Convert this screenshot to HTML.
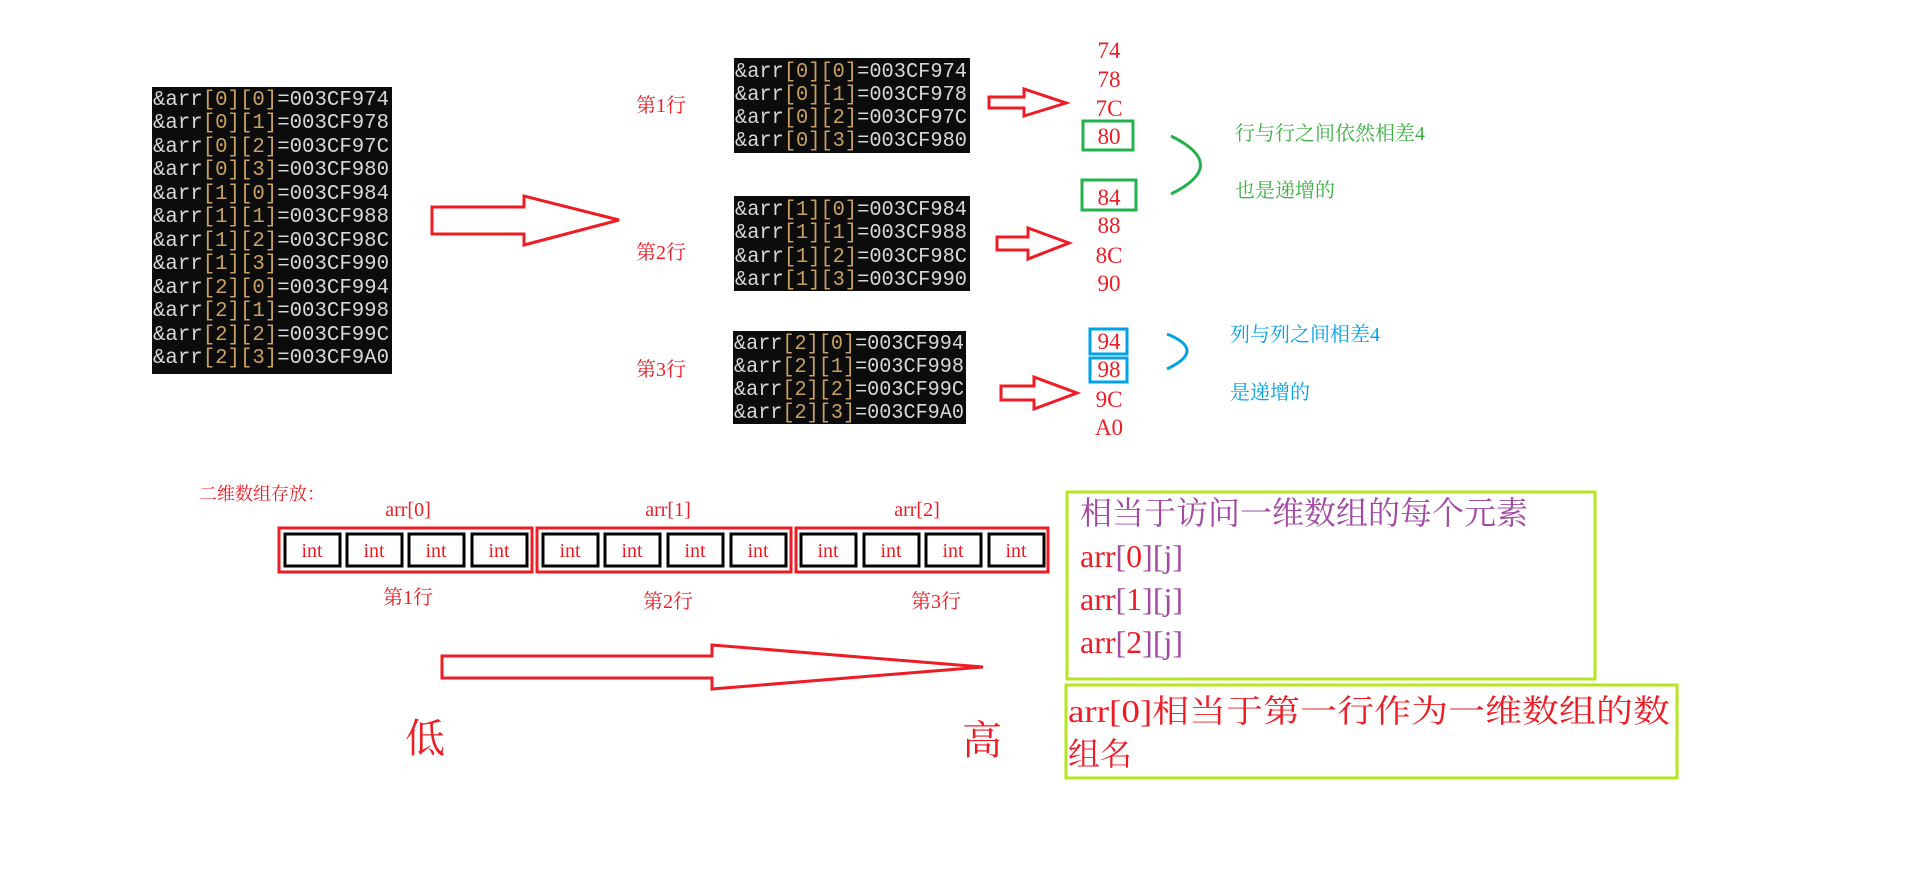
<!DOCTYPE html>
<html><head><meta charset="utf-8"><style>
html,body{margin:0;padding:0;background:#fff;}
svg{display:block;}
.t{font-family:"Liberation Mono",monospace;font-size:21px;fill:#d8d8d8;}
.b{fill:#c8a060;}
.r{font-family:"Liberation Serif","Noto Serif CJK SC",serif;fill:#ee1c24;}
</style></head><body>
<svg width="1907" height="881" viewBox="0 0 1907 881" xmlns="http://www.w3.org/2000/svg">
<rect x="152" y="87" width="240" height="287" fill="#0c0c0c"/>
<g class="t">
<text x="153" y="105" textLength="236" lengthAdjust="spacingAndGlyphs">&amp;arr<tspan class="b">[0][0]</tspan>=003CF974</text>
<text x="153" y="128" textLength="236" lengthAdjust="spacingAndGlyphs">&amp;arr<tspan class="b">[0][1]</tspan>=003CF978</text>
<text x="153" y="152" textLength="236" lengthAdjust="spacingAndGlyphs">&amp;arr<tspan class="b">[0][2]</tspan>=003CF97C</text>
<text x="153" y="175" textLength="236" lengthAdjust="spacingAndGlyphs">&amp;arr<tspan class="b">[0][3]</tspan>=003CF980</text>
<text x="153" y="199" textLength="236" lengthAdjust="spacingAndGlyphs">&amp;arr<tspan class="b">[1][0]</tspan>=003CF984</text>
<text x="153" y="222" textLength="236" lengthAdjust="spacingAndGlyphs">&amp;arr<tspan class="b">[1][1]</tspan>=003CF988</text>
<text x="153" y="246" textLength="236" lengthAdjust="spacingAndGlyphs">&amp;arr<tspan class="b">[1][2]</tspan>=003CF98C</text>
<text x="153" y="269" textLength="236" lengthAdjust="spacingAndGlyphs">&amp;arr<tspan class="b">[1][3]</tspan>=003CF990</text>
<text x="153" y="293" textLength="236" lengthAdjust="spacingAndGlyphs">&amp;arr<tspan class="b">[2][0]</tspan>=003CF994</text>
<text x="153" y="316" textLength="236" lengthAdjust="spacingAndGlyphs">&amp;arr<tspan class="b">[2][1]</tspan>=003CF998</text>
<text x="153" y="340" textLength="236" lengthAdjust="spacingAndGlyphs">&amp;arr<tspan class="b">[2][2]</tspan>=003CF99C</text>
<text x="153" y="363" textLength="236" lengthAdjust="spacingAndGlyphs">&amp;arr<tspan class="b">[2][3]</tspan>=003CF9A0</text>
</g>
<polygon points="432,207 524,207 524,196 619,220 524,245 524,234 432,234" fill="none" stroke="#ee1c24" stroke-width="3"/>
<g class="r" font-size="20">
<text x="636" y="112">第1行</text>
<text x="636" y="259">第2行</text>
<text x="636" y="376">第3行</text>
</g>
<rect x="734" y="58" width="236" height="95" fill="#0c0c0c"/>
<rect x="734" y="196" width="236" height="95" fill="#0c0c0c"/>
<rect x="733" y="331" width="233" height="93" fill="#0c0c0c"/>
<g class="t">
<text x="735" y="77" textLength="232" lengthAdjust="spacingAndGlyphs">&amp;arr<tspan class="b">[0][0]</tspan>=003CF974</text>
<text x="735" y="100" textLength="232" lengthAdjust="spacingAndGlyphs">&amp;arr<tspan class="b">[0][1]</tspan>=003CF978</text>
<text x="735" y="123" textLength="232" lengthAdjust="spacingAndGlyphs">&amp;arr<tspan class="b">[0][2]</tspan>=003CF97C</text>
<text x="735" y="146" textLength="232" lengthAdjust="spacingAndGlyphs">&amp;arr<tspan class="b">[0][3]</tspan>=003CF980</text>
<text x="735" y="215" textLength="232" lengthAdjust="spacingAndGlyphs">&amp;arr<tspan class="b">[1][0]</tspan>=003CF984</text>
<text x="735" y="238" textLength="232" lengthAdjust="spacingAndGlyphs">&amp;arr<tspan class="b">[1][1]</tspan>=003CF988</text>
<text x="735" y="262" textLength="232" lengthAdjust="spacingAndGlyphs">&amp;arr<tspan class="b">[1][2]</tspan>=003CF98C</text>
<text x="735" y="285" textLength="232" lengthAdjust="spacingAndGlyphs">&amp;arr<tspan class="b">[1][3]</tspan>=003CF990</text>
<text x="734" y="349" textLength="230" lengthAdjust="spacingAndGlyphs">&amp;arr<tspan class="b">[2][0]</tspan>=003CF994</text>
<text x="734" y="372" textLength="230" lengthAdjust="spacingAndGlyphs">&amp;arr<tspan class="b">[2][1]</tspan>=003CF998</text>
<text x="734" y="395" textLength="230" lengthAdjust="spacingAndGlyphs">&amp;arr<tspan class="b">[2][2]</tspan>=003CF99C</text>
<text x="734" y="418" textLength="230" lengthAdjust="spacingAndGlyphs">&amp;arr<tspan class="b">[2][3]</tspan>=003CF9A0</text>
</g>
<g fill="none" stroke="#ee1c24" stroke-width="3">
<polygon points="989,97 1024,97 1024,89 1066,103 1024,116 1024,108 989,108"/>
<polygon points="997,237 1028,237 1028,228 1069,243 1028,259 1028,250 997,250"/>
<polygon points="1001,386 1034,386 1034,377 1077,393 1034,409 1034,400 1001,400"/>
</g>
<g class="r" font-size="23" text-anchor="middle">
<text x="1109" y="58">74</text>
<text x="1109" y="87">78</text>
<text x="1109" y="116">7C</text>
<text x="1109" y="144">80</text>
<text x="1109" y="205">84</text>
<text x="1109" y="233">88</text>
<text x="1109" y="263">8C</text>
<text x="1109" y="291">90</text>
<text x="1109" y="349">94</text>
<text x="1109" y="377">98</text>
<text x="1109" y="407">9C</text>
<text x="1109" y="435">A0</text>
</g>
<g fill="none" stroke-width="3">
<rect x="1083" y="121" width="50" height="29" stroke="#22b14c"/>
<rect x="1082" y="180" width="54" height="30" stroke="#22b14c"/>
<path d="M1171,136 Q1230,165 1171,194" stroke="#22b14c"/>
<rect x="1090" y="329" width="37" height="25" stroke="#00a2e8"/>
<rect x="1090" y="358" width="37" height="24" stroke="#00a2e8"/>
<path d="M1167,334 Q1207,350 1167,369" stroke="#00a2e8"/>
</g>
<g font-family="'Liberation Serif','Noto Serif CJK SC',serif" font-size="20">
<text x="1235" y="140" fill="#3cb043">行与行之间依然相差4</text>
<text x="1235" y="197" fill="#3cb043">也是递增的</text>
<text x="1230" y="341" fill="#00a2e8">列与列之间相差4</text>
<text x="1230" y="399" fill="#00a2e8">是递增的</text>
</g>
<text class="r" x="199" y="500" font-size="18">二维数组存放：</text>
<g class="r" font-size="20" text-anchor="middle">
<text x="408" y="516">arr[0]</text>
<text x="668" y="516">arr[1]</text>
<text x="917" y="516">arr[2]</text>
<text x="408" y="604">第1行</text>
<text x="668" y="608">第2行</text>
<text x="936" y="608">第3行</text>
</g>
<g fill="none" stroke="#ee1c24" stroke-width="3">
<rect x="279" y="528" width="253" height="44"/>
<rect x="537" y="528" width="254" height="44"/>
<rect x="796" y="528" width="252" height="44"/>
</g>
<g fill="none" stroke="#000" stroke-width="3">
<rect x="285" y="534" width="55" height="32"/><rect x="347" y="534" width="55" height="32"/><rect x="409" y="534" width="55" height="32"/><rect x="472" y="534" width="55" height="32"/>
<rect x="543" y="534" width="55" height="32"/><rect x="605" y="534" width="55" height="32"/><rect x="668" y="534" width="55" height="32"/><rect x="731" y="534" width="55" height="32"/>
<rect x="801" y="534" width="55" height="32"/><rect x="864" y="534" width="55" height="32"/><rect x="926" y="534" width="55" height="32"/><rect x="989" y="534" width="55" height="32"/>
</g>
<g class="r" font-size="20" text-anchor="middle">
<text x="312" y="557">int</text><text x="374" y="557">int</text><text x="436" y="557">int</text><text x="499" y="557">int</text>
<text x="570" y="557">int</text><text x="632" y="557">int</text><text x="695" y="557">int</text><text x="758" y="557">int</text>
<text x="828" y="557">int</text><text x="891" y="557">int</text><text x="953" y="557">int</text><text x="1016" y="557">int</text>
</g>
<polygon points="442,656 712,656 712,645 983,667 712,689 712,678 442,678" fill="none" stroke="#ee1c24" stroke-width="3"/>
<text class="r" x="405" y="752" font-size="40">低</text>
<text class="r" x="962" y="754" font-size="40">高</text>
<rect x="1067" y="492" width="528" height="187" fill="none" stroke="#b5e61d" stroke-width="3"/>
<rect x="1066" y="685" width="611" height="93" fill="none" stroke="#b5e61d" stroke-width="3"/>
<g font-family="'Liberation Serif','Noto Serif CJK SC',serif" font-size="32">
<text x="1080" y="524" fill="#a349a4">相当于访问一维数组的每个元素</text>
<text x="1080" y="567" fill="#a349a4"><tspan fill="#ee1c24">arr</tspan>[<tspan fill="#ee1c24">0</tspan>][j]</text>
<text x="1080" y="610" fill="#a349a4"><tspan fill="#ee1c24">arr</tspan>[<tspan fill="#ee1c24">1</tspan>][j]</text>
<text x="1080" y="653" fill="#a349a4"><tspan fill="#ee1c24">arr</tspan>[<tspan fill="#ee1c24">2</tspan>][j]</text>
<text x="1068" y="722" fill="#ee1c24" textLength="602" lengthAdjust="spacingAndGlyphs">arr[0]相当于第一行作为一维数组的数</text>
<text x="1068" y="765" fill="#ee1c24">组名</text>
</g>
</svg>
</body></html>
